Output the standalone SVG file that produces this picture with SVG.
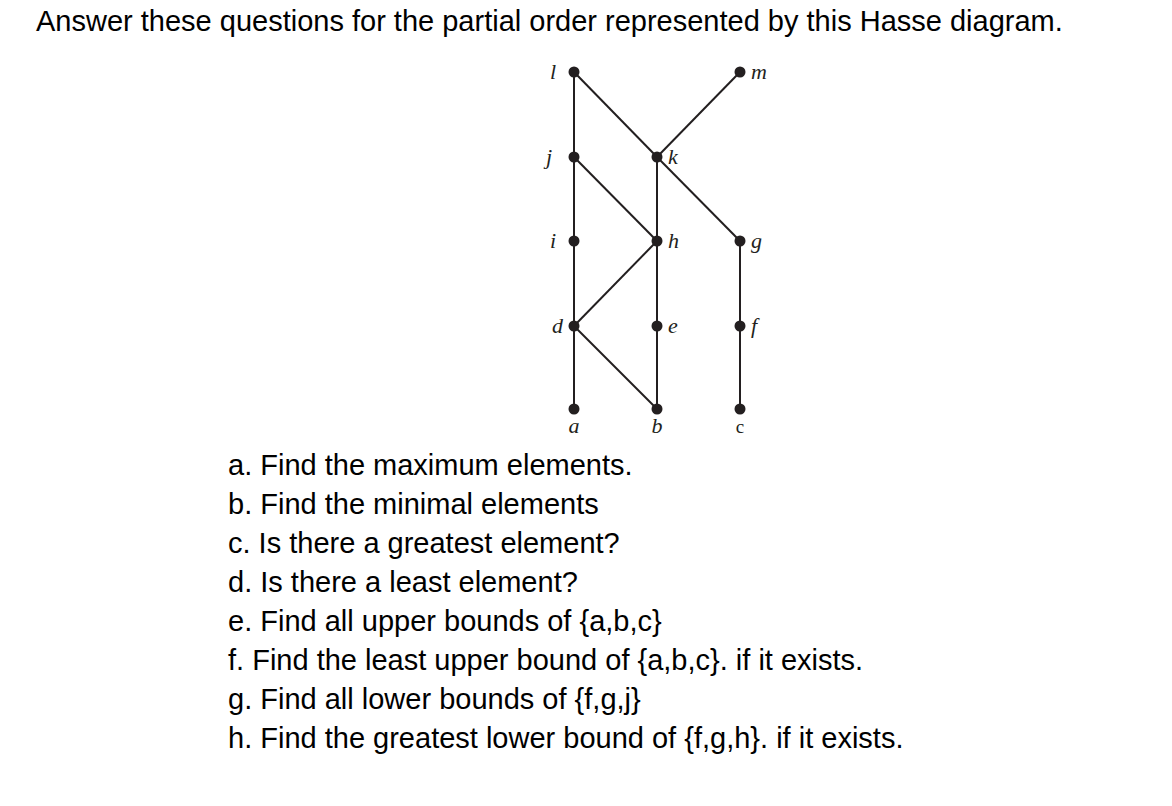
<svg xmlns="http://www.w3.org/2000/svg" width="1172" height="806" viewBox="0 0 1172 806">
<style>
.t{font-family:"Liberation Sans",Arial,sans-serif;font-size:29px;fill:#000}
.l{font-family:"Liberation Serif","Times New Roman",serif;font-style:italic;font-size:22px;fill:#231f20}
.u{font-family:"Liberation Serif","Times New Roman",serif;font-size:19px;fill:#231f20}
.e{stroke:#231f20;stroke-width:2;fill:none}
.n{fill:#231f20}
</style>
<rect width="1172" height="806" fill="#fff"/>
<text class="t" x="36" y="31">Answer these questions for the partial order represented by this Hasse diagram.</text>
<g id="connectors">
<line class="e" x1="574" y1="72" x2="574" y2="409"/>
<line class="e" x1="574" y1="72" x2="657" y2="157"/>
<line class="e" x1="740" y1="72" x2="657" y2="157"/>
<line class="e" x1="657" y1="157" x2="657" y2="409"/>
<line class="e" x1="657" y1="157" x2="740" y2="241"/>
<line class="e" x1="574" y1="157" x2="657" y2="241"/>
<line class="e" x1="657" y1="241" x2="574" y2="326"/>
<line class="e" x1="574" y1="326" x2="657" y2="409"/>
<line class="e" x1="740" y1="241" x2="740" y2="409"/>
</g>
<g id="node-l"><circle class="n" cx="574" cy="72" r="5.5"/><text class="l" x="550" y="79">l</text></g>
<g id="node-m"><circle class="n" cx="740" cy="72" r="5.5"/><text class="l" x="751" y="79">m</text></g>
<g id="node-j"><circle class="n" cx="574" cy="157" r="5.5"/><text class="l" x="546" y="164">j</text></g>
<g id="node-k"><circle class="n" cx="657" cy="157" r="5.5"/><text class="l" x="668" y="164">k</text></g>
<g id="node-i"><circle class="n" cx="574" cy="241" r="5.5"/><text class="l" x="550" y="248">i</text></g>
<g id="node-h"><circle class="n" cx="657" cy="241" r="5.5"/><text class="l" x="668" y="248">h</text></g>
<g id="node-g"><circle class="n" cx="740" cy="241" r="5.5"/><text class="l" x="751" y="248">g</text></g>
<g id="node-d"><circle class="n" cx="574" cy="326" r="5.5"/><text class="l" x="552" y="333">d</text></g>
<g id="node-e"><circle class="n" cx="657" cy="326" r="5.5"/><text class="l" x="668" y="333">e</text></g>
<g id="node-f"><circle class="n" cx="740" cy="326" r="5.5"/><text class="l" x="751" y="333">f</text></g>
<g id="node-a"><circle class="n" cx="574" cy="409" r="5.5"/><text class="l" x="574" y="433" text-anchor="middle">a</text></g>
<g id="node-b"><circle class="n" cx="657" cy="409" r="5.5"/><text class="l" x="657" y="433" text-anchor="middle">b</text></g>
<g id="node-c"><circle class="n" cx="740" cy="409" r="5.5"/><text class="u" x="740" y="433" text-anchor="middle">c</text></g>
<text class="t" x="228" y="475">a. Find the maximum elements.</text>
<text class="t" x="228" y="514">b. Find the minimal elements</text>
<text class="t" x="228" y="553">c. Is there a greatest element?</text>
<text class="t" x="228" y="592">d. Is there a least element?</text>
<text class="t" x="228" y="631">e. Find all upper bounds of {a,b,c}</text>
<text class="t" x="228" y="670">f. Find the least upper bound of {a,b,c}. if it exists.</text>
<text class="t" x="228" y="709">g. Find all lower bounds of {f,g,j}</text>
<text class="t" x="228" y="748">h. Find the greatest lower bound of {f,g,h}. if it exists.</text>
</svg>
